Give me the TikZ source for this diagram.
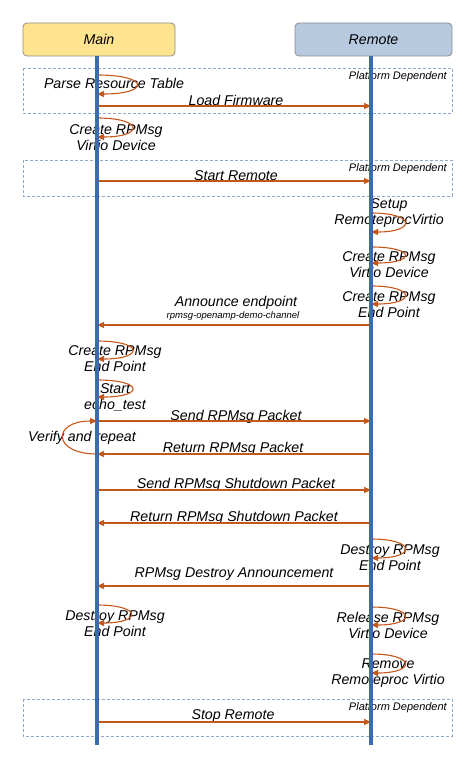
\documentclass[tikz,border=0pt]{standalone}
\usepackage{fontspec}
\setmainfont{Liberation Sans}
\usetikzlibrary{arrows.meta}
\definecolor{lifeblue}{HTML}{3A6BB3}
\definecolor{msgc}{HTML}{C4581B}
\definecolor{mainfill}{HTML}{FFE48F}
\definecolor{remfill}{HTML}{B6C9DF}
\definecolor{hdrborder}{HTML}{8C8C8C}
\definecolor{dashc}{HTML}{8FA8C6}
\begin{document}
\begin{tikzpicture}[x=1pt,y=-1pt,
 hdr/.style={draw=hdrborder, rounded corners=4pt, minimum width=152pt, minimum height=33pt, inner sep=0pt, font=\fontsize{14.2}{16}\selectfont\itshape, line width=0.8pt},
 life/.style={draw=lifeblue, line width=3.2pt},
 msg/.style={draw=msgc, line width=1.1pt, -{Triangle[length=7pt,width=6pt]}},
 lbl/.style={font=\fontsize{14.2}{16}\selectfont\itshape, align=center, inner sep=0pt},
 smalllbl/.style={font=\fontsize{9.5}{11}\selectfont\itshape, inner sep=0pt},
 plat/.style={font=\fontsize{11}{13}\selectfont\itshape, inner sep=0pt, anchor=east},
 dbox/.style={draw=dashc, dash pattern=on 3pt off 2pt, line width=0.8pt}]
\useasboundingbox (0,0) rectangle (474,767);
% headers
\node[hdr, fill=mainfill] (main) at (99,39.5) {Main};
\node[hdr, fill=remfill, minimum width=157pt] (remote) at (373.5,39.5) {Remote};
\coordinate (mtop) at (97,56);
\coordinate (mbot) at (97,745);
\coordinate (rtop) at (371,56);
\coordinate (rbot) at (371,745);
% platform dependent boxes
\draw[dbox] (23,68) rectangle (452,113);
\draw[dbox] (23,160) rectangle (452,196);
\draw[dbox] (23,699) rectangle (452,736);
\node[plat] (pd1) at (447,77) {Platform Dependent};
\node[plat] (pd2) at (447,169) {Platform Dependent};
\node[plat] (pd3) at (447,708) {Platform Dependent};
% labels
\node[lbl] (l1) at (114,83) {Parse Resource Table};
\node[lbl] (l2) at (236,100) {Load Firmware};
\node[lbl] (l3) at (116,138) {Create RPMsg\\Virtio Device};
\node[lbl] (l4) at (236,176) {Start Remote};
\node[lbl] (l5) at (389,213) {Setup\\RemoteprocVirtio};
\node[lbl] (l6) at (389,265) {Create RPMsg\\Virtio Device};
\node[lbl] (l7) at (389,305) {Create RPMsg\\End Point};
\node[lbl] (l8) at (236,303) {Announce endpoint};
\node[smalllbl] (l8b) at (233,316) {rpmsg-openamp-demo-channel};
\node[lbl] (l9) at (115,359) {Create RPMsg\\End Point};
\node[lbl] (l10) at (115,397) {Start\\echo\_test};
\node[lbl] (l11) at (236,417) {Send RPMsg Packet};
\node[lbl] (l12) at (82,438) {Verify and repeat};
\node[lbl] (l13) at (233,449) {Return RPMsg Packet};
\node[lbl] (l14) at (236,485) {Send RPMsg Shutdown Packet};
\node[lbl] (l15) at (234,518) {Return RPMsg Shutdown Packet};
\node[lbl] (l16) at (390,558) {Destroy RPMsg\\End Point};
\node[lbl] (l17) at (234,574) {RPMsg Destroy Announcement};
\node[lbl] (l18) at (115,624) {Destroy RPMsg\\End Point};
\node[lbl] (l19) at (388,625) {Release RPMsg\\Virtio Device};
\node[lbl] (l20) at (388,673) {Remove\\Remoteproc Virtio};
\node[lbl] (l21) at (233,716) {Stop Remote};
% self loops
\draw[msg] (mtop |- 0,75) .. controls +(53,0) and +(53,0) .. (mtop |- 0,94);
\draw[msg] (mtop |- 0,118) .. controls +(47,0) and +(47,0) .. (mtop |- 0,137);
\draw[msg] (rtop |- 0,213) .. controls +(45,0) and +(45,0) .. (rtop |- 0,232);
\draw[msg] (rtop |- 0,247) .. controls +(45,0) and +(45,0) .. (rtop |- 0,263);
\draw[msg] (rtop |- 0,286) .. controls +(45,0) and +(45,0) .. (rtop |- 0,304);
\draw[msg] (mtop |- 0,341) .. controls +(47,0) and +(47,0) .. (mtop |- 0,359);
\draw[msg] (mtop |- 0,380) .. controls +(47,0) and +(47,0) .. (mtop |- 0,397);
\draw[msg] (rtop |- 0,539) .. controls +(45,0) and +(45,0) .. (rtop |- 0,558);
\draw[msg] (mtop |- 0,605) .. controls +(45,0) and +(45,0) .. (mtop |- 0,623);
\draw[msg] (rtop |- 0,607) .. controls +(45,0) and +(45,0) .. (rtop |- 0,625);
\draw[msg] (rtop |- 0,654) .. controls +(45,0) and +(45,0) .. (rtop |- 0,673);
\draw[msg] (mtop |- 0,454) .. controls +(-45,0) and +(-45,0) .. (mtop |- 0,421);
% messages
\draw[msg] (mtop |- 0,106) -- (rtop |- 0,106);
\draw[msg] (mtop |- 0,181) -- (rtop |- 0,181);
\draw[msg] (rtop |- 0,325) -- (mtop |- 0,325);
\draw[msg] (mtop |- 0,421) -- (rtop |- 0,421);
\draw[msg] (rtop |- 0,454) -- (mtop |- 0,454);
\draw[msg] (mtop |- 0,490) -- (rtop |- 0,490);
\draw[msg] (rtop |- 0,523) -- (mtop |- 0,523);
\draw[msg] (rtop |- 0,586) -- (mtop |- 0,586);
\draw[msg] (mtop |- 0,722) -- (rtop |- 0,722);
% lifelines
\draw[life] (mtop) -- (mbot);
\draw[life] (rtop) -- (rbot);
\end{tikzpicture}
\end{document}
